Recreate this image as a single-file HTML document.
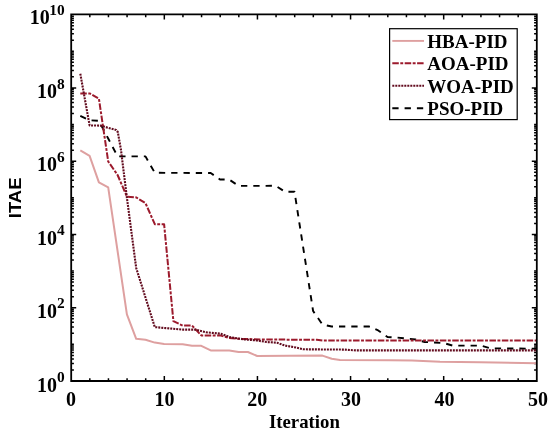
<!DOCTYPE html>
<html><head><meta charset="utf-8"><style>
html,body{margin:0;padding:0;background:#fff;}
body{width:550px;height:433px;overflow:hidden;}
svg{display:block;}
.tl{font-family:"Liberation Serif",serif;font-weight:bold;font-size:20px;fill:#000;}
.sup{font-family:"Liberation Serif",serif;font-weight:bold;font-size:15.4px;fill:#000;}
.lg{font-family:"Liberation Serif",serif;font-weight:bold;font-size:19px;fill:#000;}
.xl{font-family:"Liberation Serif",serif;font-weight:bold;font-size:18.8px;fill:#000;}
.yl{font-family:"Liberation Sans",sans-serif;font-weight:bold;font-size:16.5px;fill:#000;}
</style></head><body>
<svg width="550" height="433" viewBox="0 0 550 433">
<rect width="550" height="433" fill="#fff"/>
<path d="M89.82 381.00V378.30M89.82 14.60V17.30M108.45 381.00V378.30M108.45 14.60V17.30M127.07 381.00V378.30M127.07 14.60V17.30M145.70 381.00V378.30M145.70 14.60V17.30M164.32 381.00V376.00M164.32 14.60V19.60M182.94 381.00V378.30M182.94 14.60V17.30M201.57 381.00V378.30M201.57 14.60V17.30M220.19 381.00V378.30M220.19 14.60V17.30M238.82 381.00V378.30M238.82 14.60V17.30M257.44 381.00V376.00M257.44 14.60V19.60M276.06 381.00V378.30M276.06 14.60V17.30M294.69 381.00V378.30M294.69 14.60V17.30M313.31 381.00V378.30M313.31 14.60V17.30M331.94 381.00V378.30M331.94 14.60V17.30M350.56 381.00V376.00M350.56 14.60V19.60M369.18 381.00V378.30M369.18 14.60V17.30M387.81 381.00V378.30M387.81 14.60V17.30M406.43 381.00V378.30M406.43 14.60V17.30M425.06 381.00V378.30M425.06 14.60V17.30M443.68 381.00V376.00M443.68 14.60V19.60M462.30 381.00V378.30M462.30 14.60V17.30M480.93 381.00V378.30M480.93 14.60V17.30M499.55 381.00V378.30M499.55 14.60V17.30M518.18 381.00V378.30M518.18 14.60V17.30M71.20 369.97H73.90M536.80 369.97H534.10M71.20 363.52H73.90M536.80 363.52H534.10M71.20 358.94H73.90M536.80 358.94H534.10M71.20 355.39H73.90M536.80 355.39H534.10M71.20 352.49H73.90M536.80 352.49H534.10M71.20 350.04H73.90M536.80 350.04H534.10M71.20 347.91H73.90M536.80 347.91H534.10M71.20 346.04H73.90M536.80 346.04H534.10M71.20 344.36H73.90M536.80 344.36H534.10M71.20 333.33H73.90M536.80 333.33H534.10M71.20 326.88H73.90M536.80 326.88H534.10M71.20 322.30H73.90M536.80 322.30H534.10M71.20 318.75H73.90M536.80 318.75H534.10M71.20 315.85H73.90M536.80 315.85H534.10M71.20 313.40H73.90M536.80 313.40H534.10M71.20 311.27H73.90M536.80 311.27H534.10M71.20 309.40H73.90M536.80 309.40H534.10M71.20 307.72H76.20M536.80 307.72H531.80M71.20 296.69H73.90M536.80 296.69H534.10M71.20 290.24H73.90M536.80 290.24H534.10M71.20 285.66H73.90M536.80 285.66H534.10M71.20 282.11H73.90M536.80 282.11H534.10M71.20 279.21H73.90M536.80 279.21H534.10M71.20 276.76H73.90M536.80 276.76H534.10M71.20 274.63H73.90M536.80 274.63H534.10M71.20 272.76H73.90M536.80 272.76H534.10M71.20 271.08H73.90M536.80 271.08H534.10M71.20 260.05H73.90M536.80 260.05H534.10M71.20 253.60H73.90M536.80 253.60H534.10M71.20 249.02H73.90M536.80 249.02H534.10M71.20 245.47H73.90M536.80 245.47H534.10M71.20 242.57H73.90M536.80 242.57H534.10M71.20 240.12H73.90M536.80 240.12H534.10M71.20 237.99H73.90M536.80 237.99H534.10M71.20 236.12H73.90M536.80 236.12H534.10M71.20 234.44H76.20M536.80 234.44H531.80M71.20 223.41H73.90M536.80 223.41H534.10M71.20 216.96H73.90M536.80 216.96H534.10M71.20 212.38H73.90M536.80 212.38H534.10M71.20 208.83H73.90M536.80 208.83H534.10M71.20 205.93H73.90M536.80 205.93H534.10M71.20 203.48H73.90M536.80 203.48H534.10M71.20 201.35H73.90M536.80 201.35H534.10M71.20 199.48H73.90M536.80 199.48H534.10M71.20 197.80H73.90M536.80 197.80H534.10M71.20 186.77H73.90M536.80 186.77H534.10M71.20 180.32H73.90M536.80 180.32H534.10M71.20 175.74H73.90M536.80 175.74H534.10M71.20 172.19H73.90M536.80 172.19H534.10M71.20 169.29H73.90M536.80 169.29H534.10M71.20 166.84H73.90M536.80 166.84H534.10M71.20 164.71H73.90M536.80 164.71H534.10M71.20 162.84H73.90M536.80 162.84H534.10M71.20 161.16H76.20M536.80 161.16H531.80M71.20 150.13H73.90M536.80 150.13H534.10M71.20 143.68H73.90M536.80 143.68H534.10M71.20 139.10H73.90M536.80 139.10H534.10M71.20 135.55H73.90M536.80 135.55H534.10M71.20 132.65H73.90M536.80 132.65H534.10M71.20 130.20H73.90M536.80 130.20H534.10M71.20 128.07H73.90M536.80 128.07H534.10M71.20 126.20H73.90M536.80 126.20H534.10M71.20 124.52H73.90M536.80 124.52H534.10M71.20 113.49H73.90M536.80 113.49H534.10M71.20 107.04H73.90M536.80 107.04H534.10M71.20 102.46H73.90M536.80 102.46H534.10M71.20 98.91H73.90M536.80 98.91H534.10M71.20 96.01H73.90M536.80 96.01H534.10M71.20 93.56H73.90M536.80 93.56H534.10M71.20 91.43H73.90M536.80 91.43H534.10M71.20 89.56H73.90M536.80 89.56H534.10M71.20 87.88H76.20M536.80 87.88H531.80M71.20 76.85H73.90M536.80 76.85H534.10M71.20 70.40H73.90M536.80 70.40H534.10M71.20 65.82H73.90M536.80 65.82H534.10M71.20 62.27H73.90M536.80 62.27H534.10M71.20 59.37H73.90M536.80 59.37H534.10M71.20 56.92H73.90M536.80 56.92H534.10M71.20 54.79H73.90M536.80 54.79H534.10M71.20 52.92H73.90M536.80 52.92H534.10M71.20 51.24H73.90M536.80 51.24H534.10M71.20 40.21H73.90M536.80 40.21H534.10M71.20 33.76H73.90M536.80 33.76H534.10M71.20 29.18H73.90M536.80 29.18H534.10M71.20 25.63H73.90M536.80 25.63H534.10M71.20 22.73H73.90M536.80 22.73H534.10M71.20 20.28H73.90M536.80 20.28H534.10M71.20 18.15H73.90M536.80 18.15H534.10M71.20 16.28H73.90M536.80 16.28H534.10" stroke="#000" stroke-width="1.5" fill="none"/>
<polyline points="80.30,150.40 89.60,155.90 98.90,182.30 108.20,187.30 126.90,314.40 136.20,338.80 145.50,339.70 154.80,342.60 164.10,343.90 182.70,344.30 192.00,345.80 201.30,345.80 210.70,350.40 229.30,350.40 238.60,352.00 247.90,352.00 257.20,356.00 322.40,355.60 331.70,358.80 340.00,360.00 390.00,360.20 412.00,360.60 440.00,361.70 480.00,362.20 536.80,363.30" stroke="#dea0a0" stroke-width="2" fill="none" stroke-linejoin="round"/>
<polyline points="80.30,115.80 89.60,120.30 98.90,120.80 108.20,138.50 117.60,156.40 145.50,156.40 154.80,172.80 210.70,173.00 220.00,179.50 229.30,179.60 238.60,185.90 275.80,185.80 285.10,191.80 294.50,191.80 313.10,311.00 322.40,324.50 331.70,326.50 368.90,326.50 378.20,330.40 387.50,337.00 396.90,337.50 406.20,338.50 415.50,339.50 424.80,342.00 434.10,342.50 443.40,343.00 452.70,345.60 480.70,345.60 490.00,348.30 536.80,348.70" stroke="#000000" stroke-width="1.9" fill="none" stroke-dasharray="6.3 6" stroke-linejoin="round"/>
<polyline points="80.30,93.40 89.60,93.40 98.90,98.60 108.20,161.50 117.60,175.00 126.90,196.60 136.20,197.40 145.50,203.20 154.80,224.20 164.10,224.20 173.40,321.20 182.70,325.60 192.00,325.60 201.30,335.40 220.00,335.40 229.30,338.00 238.60,338.80 263.00,339.50 316.80,339.80 322.50,340.40 536.80,340.60" stroke="#9c1a2c" stroke-width="2" fill="none" stroke-dasharray="6.5 1.5 2.9 1.5" stroke-linejoin="round"/>
<polyline points="80.30,73.70 89.60,125.40 100.40,125.60 116.20,130.00 117.80,132.00 121.00,150.00 126.70,196.10 132.20,237.80 135.40,262.00 136.20,268.00 154.80,327.10 182.70,329.60 195.50,329.60 205.90,332.30 220.90,333.70 229.30,337.00 244.00,339.40 257.20,340.50 266.50,342.00 276.90,342.70 285.10,345.60 296.00,347.50 302.90,349.30 344.50,349.60 356.00,350.40 536.80,350.40" stroke="#620b1e" stroke-width="2.1" fill="none" stroke-dasharray="2 1" stroke-linejoin="round"/>
<path d="M71.20 14.30H536.80V381.00H71.20Z" stroke="#000" stroke-width="1.8" fill="none" stroke-linejoin="miter"/>
<rect x="389.6" y="28.7" width="127.60" height="90.90" stroke="#000" stroke-width="1.2" fill="#fff"/>
<line x1="392.3" y1="40.9" x2="424" y2="40.9" stroke="#dea0a0" stroke-width="1.9"/>
<text x="427.3" y="47.7" class="lg">HBA-PID</text>
<line x1="392.3" y1="63.3" x2="424" y2="63.3" stroke="#9c1a2c" stroke-width="2" stroke-dasharray="6.5 1.5 2.9 1.5"/>
<text x="427.3" y="70.1" class="lg">AOA-PID</text>
<line x1="392.3" y1="85.8" x2="424" y2="85.8" stroke="#620b1e" stroke-width="2.1" stroke-dasharray="2 1"/>
<text x="427.3" y="92.7" class="lg">WOA-PID</text>
<line x1="392.3" y1="108.2" x2="424" y2="108.2" stroke="#000000" stroke-width="1.9" stroke-dasharray="6.3 6"/>
<text x="427.3" y="115.0" class="lg">PSO-PID</text>
<text x="71.00" y="405.6" class="tl" text-anchor="middle">0</text>
<text x="164.40" y="405.6" class="tl" text-anchor="middle">10</text>
<text x="257.30" y="405.6" class="tl" text-anchor="middle">20</text>
<text x="351.10" y="405.6" class="tl" text-anchor="middle">30</text>
<text x="444.50" y="405.6" class="tl" text-anchor="middle">40</text>
<text x="537.90" y="405.6" class="tl" text-anchor="middle">50</text>
<text x="64.6" y="381.70" class="sup" text-anchor="end">0</text>
<text x="56.90" y="392.10" class="tl" text-anchor="end">10</text>
<text x="64.6" y="308.42" class="sup" text-anchor="end">2</text>
<text x="56.90" y="318.12" class="tl" text-anchor="end">10</text>
<text x="64.6" y="235.14" class="sup" text-anchor="end">4</text>
<text x="56.90" y="244.64" class="tl" text-anchor="end">10</text>
<text x="64.6" y="161.86" class="sup" text-anchor="end">6</text>
<text x="56.90" y="170.76" class="tl" text-anchor="end">10</text>
<text x="64.6" y="88.58" class="sup" text-anchor="end">8</text>
<text x="56.90" y="98.18" class="tl" text-anchor="end">10</text>
<text x="64.6" y="15.30" class="sup" text-anchor="end">10</text>
<text x="49.80" y="24.30" class="tl" text-anchor="end">10</text>
<text x="304.4" y="428.3" class="xl" text-anchor="middle">Iteration</text>
<text transform="translate(20.7 197.9) rotate(-90) scale(1.12 1)" class="yl" text-anchor="middle">ITAE</text>
</svg>
</body></html>
